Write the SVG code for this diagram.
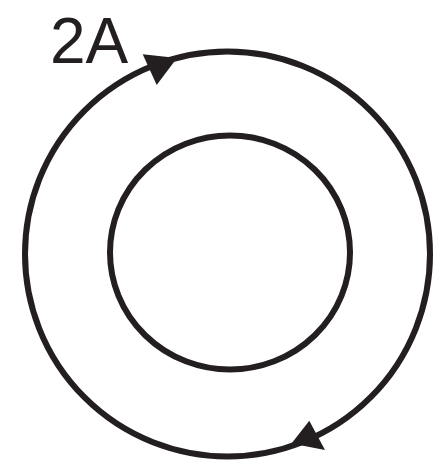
<svg xmlns="http://www.w3.org/2000/svg" width="444" height="472" viewBox="0 0 444 472">
<style>
.ring{fill:none;stroke:#231f20;stroke-width:6}
.head{fill:#231f20;stroke:none}
.lbl{font-family:"Liberation Sans",Arial,sans-serif;font-size:64px;fill:#231f20}
</style>
<rect width="444" height="472" fill="#fff"/>
<g id="outer-loop">
<circle class="ring" cx="227.5" cy="254" r="202.5"/>
</g>
<g id="inner-loop">
<ellipse class="ring" cx="230" cy="252.5" rx="120" ry="117"/>
</g>
<g id="connectors">
<polygon class="head" points="177,58 142.7,54.3 156.7,85"/>
<polygon class="head" points="291.5,443.5 309.3,420.7 325,450"/>
</g>
<g id="label">
<text class="lbl" x="50" y="63">2A</text>
</g>
</svg>
